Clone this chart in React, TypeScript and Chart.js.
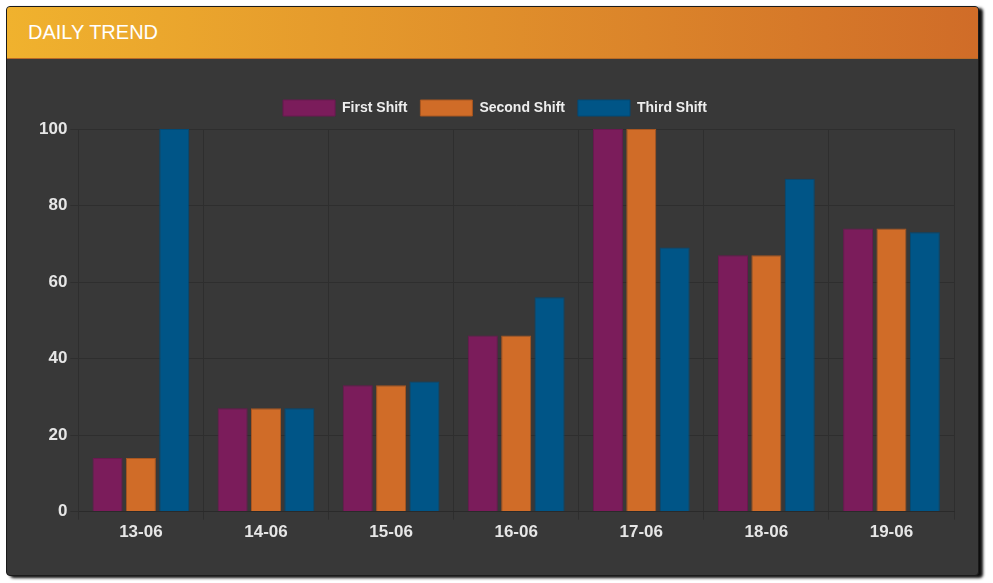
import React, { useEffect, useRef } from "react";
import { Chart, registerables } from "chart.js";

Chart.register(...registerables);

const days = ["13-06", "14-06", "15-06", "16-06", "17-06", "18-06", "19-06"];
const firstShift = [14, 27, 33, 46, 100, 67, 74];
const secondShift = [14, 27, 33, 46, 100, 67, 74];
const thirdShift = [100, 27, 34, 56, 69, 87, 73];
const yTicks = [0, 20, 40, 60, 80, 100];

const FONT = "'Liberation Sans', Arial, sans-serif";

// adds a little room under the legend
const legendGap = {
  id: "legendGap",
  afterInit(chart: any) {
    const legend = chart.legend;
    if (!legend) return;
    const fit = legend.fit;
    legend.fit = function () {
      fit.call(this);
      this.height += 3;
    };
  },
};

const DailyTrendChart: React.FC = () => {
  const chartRef = useRef<HTMLCanvasElement>(null);
  const chartInstance = useRef<Chart | null>(null);

  useEffect(() => {
    if (!chartRef.current) return;
    if (chartInstance.current) {
      chartInstance.current.destroy();
    }
    const ctx = chartRef.current.getContext("2d");
    if (!ctx) return;

    chartInstance.current = new Chart(ctx, {
      type: "bar",
      data: {
        labels: days,
        datasets: [
          {
            label: "First Shift",
            data: firstShift,
            backgroundColor: "#7b1c5b",
            borderColor: "#6a1850",
            borderWidth: 1,
          },
          {
            label: "Second Shift",
            data: secondShift,
            backgroundColor: "#d06c28",
            borderColor: "#a85620",
            borderWidth: 1,
          },
          {
            label: "Third Shift",
            data: thirdShift,
            backgroundColor: "#005587",
            borderColor: "#004a76",
            borderWidth: 1,
          },
        ],
      },
      options: {
        animation: false,
        responsive: true,
        maintainAspectRatio: false,
        layout: {
          padding: { left: 29, right: 26, top: 28, bottom: 31 },
        },
        scales: {
          x: {
            grid: { color: "#2e2e2e", tickLength: 8 },
            border: { color: "#2a2a2a" },
            ticks: {
              color: "#e6e6e6",
              font: { family: FONT, size: 17, weight: "bold" },
            },
          },
          y: {
            min: 0,
            max: 100,
            afterBuildTicks: (axis) => {
              axis.ticks = yTicks.map((v) => ({ value: v }));
            },
            grid: { color: "#2e2e2e", tickLength: 8 },
            border: { color: "#2e2e2e" },
            ticks: {
              color: "#e6e6e6",
              font: { family: FONT, size: 17, weight: "bold" },
            },
          },
        },
        plugins: {
          legend: {
            position: "top",
            labels: {
              color: "#eeeeee",
              boxWidth: 52,
              boxHeight: 16,
              padding: 13,
              font: { family: FONT, size: 14, weight: "bold" },
            },
          },
          tooltip: { enabled: false },
        },
      },
      plugins: [legendGap],
    });

    return () => {
      if (chartInstance.current) {
        chartInstance.current.destroy();
        chartInstance.current = null;
      }
    };
  }, []);

  return (
    <div
      style={{
        position: "absolute",
        left: 6,
        top: 6,
        width: 973,
        height: 570,
        background: "#383838",
        borderRadius: 4,
        border: "1px solid #1a1a1a",
        boxSizing: "border-box",
        boxShadow: "4px 2px 3px rgba(0,0,0,0.95)",
        overflow: "hidden",
      }}
    >
      <div
        style={{
          height: 52,
          background: "linear-gradient(to right, #f0b22e, #d06c28)",
          borderBottom: "1px solid #b86a26",
          boxSizing: "border-box",
          color: "#ffffff",
          fontFamily: FONT,
          fontSize: 20,
          lineHeight: "50px",
          paddingLeft: 21,
        }}
      >
        DAILY TREND
      </div>
      <div style={{ position: "absolute", left: 0, top: 52, width: 973, height: 518 }}>
        <canvas ref={chartRef} />
      </div>
    </div>
  );
};

export default function App() {
  return <DailyTrendChart />;
}
